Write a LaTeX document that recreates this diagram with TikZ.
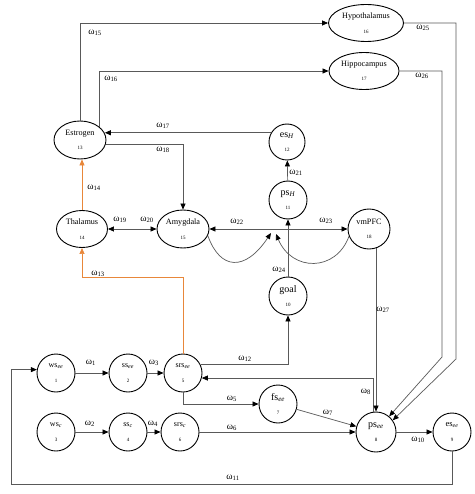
\documentclass[tikz,border=0pt]{standalone}
\usepackage{fontspec}
\setmainfont{Liberation Serif}
\usetikzlibrary{arrows.meta,shapes.geometric}
\definecolor{orng}{HTML}{E8873A}
\newcommand\nc[3]{{\fontsize{#1}{#1}\selectfont #2}\\[2.5pt]{\fontsize{5}{5}\selectfont #3}}
\begin{document}
\begin{tikzpicture}[x=1pt,y=-1pt,
  lin/.style={draw=black!65, line width=0.7pt},
  arr/.style={lin, -{Triangle[length=6pt,width=5pt,black]}},
  arrs/.style={lin, {Triangle[length=6pt,width=5pt,black]}-{Triangle[length=6pt,width=5pt,black]}},
  oarr/.style={draw=orng, line width=0.7pt, -{Triangle[length=6pt,width=5pt,orng]}},
  cnode/.style={circle, draw, line width=0.9pt, minimum size=38pt, inner sep=0pt, align=center},
  enode/.style={ellipse, draw, line width=0.9pt, inner sep=0pt, align=center},
  lab/.style={font=\fontsize{9.5}{10}\selectfont, inner sep=0pt}
]
\useasboundingbox (0,0) rectangle (474,494);
% nodes
\node[enode, minimum width=75pt, minimum height=37pt] (hyp) at (366,23) {\nc{8.2}{Hypothalamus}{16}};
\node[enode, minimum width=70pt, minimum height=37pt] (hip) at (364,71) {\nc{8.2}{Hippocampus}{17}};
\node[enode, minimum width=52pt, minimum height=38pt] (est) at (80,140) {\nc{8.2}{Estrogen}{13}};
\node[cnode, minimum size=36pt] (esH) at (287,142) {\nc{10}{es\textsubscript{\textit{H}}}{12}};
\node[cnode] (psH) at (288,200) {\nc{10}{ps\textsubscript{\textit{H}}}{11}};
\node[enode, minimum width=51pt, minimum height=37pt] (thal) at (82,229) {\nc{8.2}{Thalamus}{14}};
\node[enode, minimum width=52pt, minimum height=38pt] (amy) at (183,229) {\nc{8.2}{Amygdala}{15}};
\node[enode, minimum width=42pt, minimum height=40pt] (vm) at (369,229) {\nc{8.2}{vmPFC}{18}};
\node[cnode] (goal) at (288,296) {\nc{10}{goal}{10}};
\node[cnode] (ws) at (56,373) {\nc{8}{ws\textsubscript{\textit{ee}}}{1}};
\node[cnode] (ss) at (128,373) {\nc{8}{ss\textsubscript{\textit{ee}}}{2}};
\node[cnode] (srs) at (183,373) {\nc{8}{srs\textsubscript{\textit{ee}}}{5}};
\node[cnode] (fs) at (278,404) {\nc{10}{fs\textsubscript{\textit{ee}}}{7}};
\node[cnode] (wsc) at (56,432) {\nc{8}{ws\textsubscript{\textit{c}}}{3}};
\node[cnode] (ssc) at (128,432) {\nc{8}{ss\textsubscript{\textit{c}}}{4}};
\node[cnode] (srsc) at (180,432) {\nc{8}{srs\textsubscript{\textit{c}}}{6}};
\node[cnode, minimum size=40pt] (ps) at (376,432) {\nc{10}{ps\textsubscript{\textit{ee}}}{8}};
\node[cnode] (es) at (452,432) {\nc{8.5}{es\textsubscript{\textit{ee}}}{9}};
% helper coordinates
\coordinate (c11) at (11,484);
\coordinate (cH) at (456,359);
\coordinate (cP) at (442,357);
\coordinate (tA) at (271,233);
\coordinate (tB) at (276,234);
% connectors
\draw[arr] (ws) -- (ss);
\draw[arr] (ss) -- (srs);
\draw[arr] (wsc) -- (ssc);
\draw[arr] (ssc) -- (srsc);
\draw[arr] (srsc) -- (ps);
\draw[arr] (srs.south) |- (fs.west);
\draw[arr] (fs) -- (ps);
\draw[arr] ([xshift=-3pt]ps.north) |- (srs.-15);
\draw[arr] (ps) -- (es);
\draw[arr] (es.south) |- (c11) |- (ws.170);
\draw[arr] (srs.25) -| (goal.south);
\draw[oarr] (srs.north) -- ++(0,-76) -| (thal.south);
\draw[oarr] (thal.north) -- (thal.north |- est.south);
\draw[arr] (est.north) |- (hyp.west);
\draw[arr] (est.34) |- (hip.west);
\draw[arr] (esH.150) -- (esH.150 -| est.15);
\draw[arr] (est.-10) -| (amy.north);
\draw[arrs] (thal) -- (amy);
\draw[arr] (psH) -- (esH);
\draw[arrs] (amy) -- (vm);
\draw[arr] (goal) -- (psH);
\draw[arr] (vm.-70) -- (vm.-70 |- ps.north);
\draw[arr] (hyp.east) -| (cH) -- (ps.35);
\draw[arr] (hip.east) -| (cP) -- (ps.50);
\draw[arr] (amy.-15) .. controls (220,270) and (245,272) .. (tA);
\draw[arr] (vm.-160) .. controls (336,272) and (292,272) .. (tB);
% labels
\node[lab] (l1) at (91,363) {ω\textsubscript{1}};
\node[lab] (l2) at (90,424) {ω\textsubscript{2}};
\node[lab] (l3) at (154,363) {ω\textsubscript{3}};
\node[lab] (l4) at (153,424) {ω\textsubscript{4}};
\node[lab] (l5) at (232,399) {ω\textsubscript{5}};
\node[lab] (l6) at (232,428) {ω\textsubscript{6}};
\node[lab] (l7) at (328,413) {ω\textsubscript{7}};
\node[lab] (l8) at (366,392) {ω\textsubscript{8}};
\node[lab] (l10) at (418,440) {ω\textsubscript{10}};
\node[lab] (l11) at (233,478) {ω\textsubscript{11}};
\node[lab] (l12) at (245,359) {ω\textsubscript{12}};
\node[lab] (l13) at (98,274) {ω\textsubscript{13}};
\node[lab] (l14) at (94,188) {ω\textsubscript{14}};
\node[lab] (l15) at (95,33) {ω\textsubscript{15}};
\node[lab] (l16) at (111,79) {ω\textsubscript{16}};
\node[lab] (l17) at (163,126) {ω\textsubscript{17}};
\node[lab] (l18) at (163,150) {ω\textsubscript{18}};
\node[lab] (l19) at (120,220) {ω\textsubscript{19}};
\node[lab] (l20) at (147,220) {ω\textsubscript{20}};
\node[lab] (l21) at (296,173) {ω\textsubscript{21}};
\node[lab] (l22) at (237,222) {ω\textsubscript{22}};
\node[lab] (l23) at (326,221) {ω\textsubscript{23}};
\node[lab] (l24) at (279,270) {ω\textsubscript{24}};
\node[lab] (l25) at (423,28) {ω\textsubscript{25}};
\node[lab] (l26) at (422,76) {ω\textsubscript{26}};
\node[lab] (l27) at (383,310) {ω\textsubscript{27}};
\end{tikzpicture}
\end{document}
